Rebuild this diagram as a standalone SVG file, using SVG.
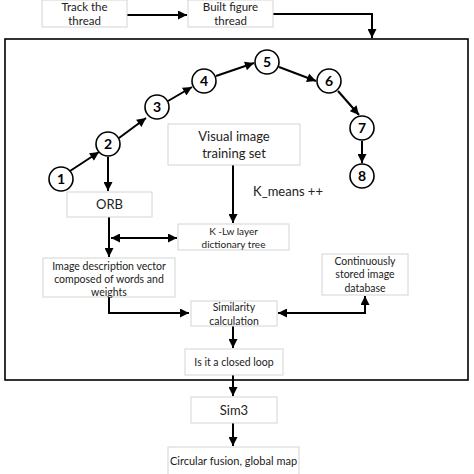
<svg xmlns="http://www.w3.org/2000/svg" width="474" height="474" viewBox="0 0 474 474">
<defs>
<marker id="ah" viewBox="0 0 10 10" refX="10" refY="5" markerWidth="10" markerHeight="9" markerUnits="userSpaceOnUse" orient="auto-start-reverse">
<path d="M0,0 L10,5 L0,10 z" fill="#000"/>
</marker>
</defs>
<style>
.box{fill:#fff;stroke:#d4d4d4;stroke-width:1}
.t{font-family:Lato,"Liberation Sans",sans-serif;fill:#222;text-anchor:middle}
.c{fill:#fff;stroke:#000;stroke-width:1.6}
.n{font-family:Lato,"Liberation Sans",sans-serif;font-weight:bold;font-size:14px;fill:#000;text-anchor:middle}
.ln{fill:none;stroke:#000;stroke-width:2}
</style>
<rect x="0" y="0" width="474" height="474" fill="#fff"/>
<rect x="5" y="39" width="463" height="341" fill="none" stroke="#000" stroke-width="1.6"/>
<g id="connectors">
<path class="ln" d="M127,15 L187,15" marker-end="url(#ah)"/>
<path class="ln" d="M273,14 L372,14 L372,38" marker-end="url(#ah)"/>
<path class="ln" d="M70,171 L99,152" marker-end="url(#ah)"/>
<path class="ln" d="M119,138 L146,118" marker-end="url(#ah)"/>
<path class="ln" d="M168,101 L192,87" marker-end="url(#ah)"/>
<path class="ln" d="M216,76 L254,63" marker-end="url(#ah)"/>
<path class="ln" d="M279,67 L316,81" marker-end="url(#ah)"/>
<path class="ln" d="M338,91 L359,115" marker-end="url(#ah)"/>
<path class="ln" d="M362,141 L362,163" marker-end="url(#ah)"/>
<path class="ln" d="M108,157 L108,191" marker-end="url(#ah)"/>
<path class="ln" d="M233,165 L233,223" marker-end="url(#ah)"/>
<path class="ln" d="M109,217 L109,257" marker-end="url(#ah)"/>
<path class="ln" d="M111,238 L177,238" marker-start="url(#ah)" marker-end="url(#ah)"/>
<path class="ln" d="M109,297 L109,313 L189,313" marker-end="url(#ah)"/>
<path class="ln" d="M278,313 L365,313 L365,296" marker-start="url(#ah)" marker-end="url(#ah)"/>
<path class="ln" d="M233,326 L233,348" marker-end="url(#ah)"/>
<path class="ln" d="M233,375 L233,396" marker-end="url(#ah)"/>
<path class="ln" d="M233,423 L233,446" marker-end="url(#ah)"/>
</g>
<g id="track"><rect class="box" x="42" y="0" width="85" height="27"/><text class="t" font-size="11.5" x="84.5" y="11">Track the</text><text class="t" font-size="11.5" x="84.5" y="25">thread</text></g>
<g id="built"><rect class="box" x="188" y="0" width="85" height="27"/><text class="t" font-size="11.5" x="230.5" y="11">Built figure</text><text class="t" font-size="11.5" x="230.5" y="25">thread</text></g>
<g id="n1"><circle class="c" cx="61" cy="179" r="12"/><text class="n" x="61" y="184">1</text></g>
<g id="n2"><circle class="c" cx="108" cy="144" r="12"/><text class="n" x="108" y="149">2</text></g>
<g id="n3"><circle class="c" cx="157" cy="107" r="12"/><text class="n" x="157" y="112">3</text></g>
<g id="n4"><circle class="c" cx="204" cy="81" r="12"/><text class="n" x="204" y="86">4</text></g>
<g id="n5"><circle class="c" cx="267" cy="62" r="12"/><text class="n" x="267" y="67">5</text></g>
<g id="n6"><circle class="c" cx="329" cy="81" r="12"/><text class="n" x="329" y="86">6</text></g>
<g id="n7"><circle class="c" cx="362" cy="128" r="12"/><text class="n" x="362" y="133">7</text></g>
<g id="n8"><circle class="c" cx="362" cy="176" r="12"/><text class="n" x="362" y="181">8</text></g>
<g id="training"><rect class="box" x="168" y="124" width="132" height="41"/><text class="t" font-size="13" x="234" y="141">Visual image</text><text class="t" font-size="13" x="234" y="158">training set</text></g>
<g id="kmeans"><text class="t" font-size="13" x="288" y="196">K_means ++</text></g>
<g id="orb"><rect class="box" x="67" y="192" width="85" height="25"/><text class="t" font-size="13" x="109.5" y="209">ORB</text></g>
<g id="tree"><rect class="box" x="178" y="224" width="111" height="26"/><text class="t" font-size="10" x="233.5" y="234.5">K -Lw layer</text><text class="t" font-size="10" x="233.5" y="247.5">dictionary tree</text></g>
<g id="desc"><rect class="box" x="43" y="258" width="132" height="39"/><text class="t" font-size="10.5" x="109" y="269.5">Image description vector</text><text class="t" font-size="10.5" x="109" y="282.5">composed of words and</text><text class="t" font-size="10.5" x="109" y="295.5">weights</text></g>
<g id="db"><rect class="box" x="322" y="254" width="86" height="41"/><text class="t" font-size="10.5" x="365" y="264.5">Continuously</text><text class="t" font-size="10.5" x="365" y="278">stored image</text><text class="t" font-size="10.5" x="365" y="291.5">database</text></g>
<g id="sim"><rect class="box" x="191" y="301" width="86" height="25"/><text class="t" font-size="10.5" x="234" y="310.5">Similarity</text><text class="t" font-size="10.5" x="234" y="325">calculation</text></g>
<g id="loop"><rect class="box" x="185" y="349" width="98" height="26"/><text class="t" font-size="10.5" x="234" y="366">Is it a closed loop</text></g>
<g id="sim3"><rect class="box" x="191" y="397" width="86" height="26"/><text class="t" font-size="13" x="234" y="415">Sim3</text></g>
<g id="fusion"><rect class="box" x="168" y="447" width="131" height="28"/><text class="t" font-size="11" x="233.5" y="465">Circular fusion, global map</text></g>
</svg>
